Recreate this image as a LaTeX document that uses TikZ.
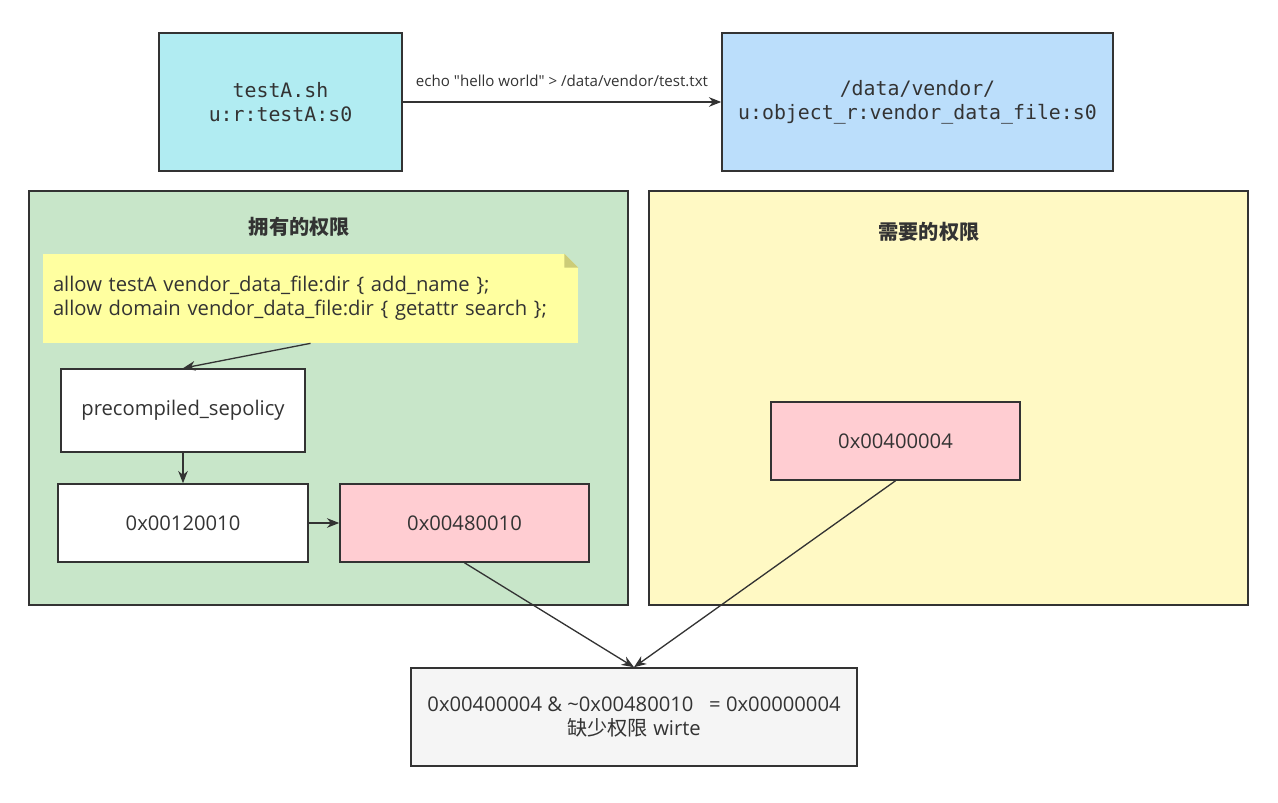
\documentclass[tikz,border=0pt]{standalone}
\usepackage{fontspec}
\setmainfont{Open Sans}
\setmonofont{DejaVu Sans Mono}
\newfontfamily\cjk{Noto Sans CJK SC}
\usetikzlibrary{arrows.meta}
\definecolor{seLine}{RGB}{51, 51, 51}
\definecolor{seCyan}{RGB}{177, 236, 242}
\definecolor{seBlue}{RGB}{187, 222, 251}
\definecolor{seGreen}{RGB}{200, 230, 201}
\definecolor{seYellow}{RGB}{255, 249, 196}
\definecolor{seNote}{RGB}{255, 255, 160}
\definecolor{seFold}{RGB}{204, 204, 120}
\definecolor{sePink}{RGB}{255, 205, 210}
\definecolor{seGray}{RGB}{245, 245, 245}

\begin{document}
\begin{tikzpicture}[
    box/.style={draw=seLine, line width=0.9pt, text=seLine, align=center},
    link/.style={-{Stealth[length=7pt, width=5.5pt]}, line width=0.75pt, draw=seLine},
    mono/.style={font=\ttfamily\fontsize{11.3}{13.6}\selectfont},
    txt/.style={font=\fontsize{11.5}{13.6}\selectfont}]
    \useasboundingbox (0,0) rectangle (25.56,-16.06);

    % Process and target
    \node[box, mono, fill=seCyan, minimum width=4.86cm, minimum height=2.76cm] (proc) at (5.61,-2.04) {testA.sh\\u:r:testA:s0};
    \node[box, mono, fill=seBlue, minimum width=7.82cm, minimum height=2.76cm] (target) at (18.35,-2.04) {/data/vendor/\\u:object\_r:vendor\_data\_file:s0};
    \draw[link] (proc) -- (target) node[midway, above=0.18cm, text=seLine, font=\fontsize{8.6}{10}\selectfont] {echo \textquotedbl hello world\textquotedbl{} > /data/vendor/test.txt};

    % Containers
    \node[box, fill=seGreen, minimum width=11.98cm, minimum height=8.28cm] (have) at (6.57,-7.96) {};
    \node[box, fill=seYellow, minimum width=11.98cm, minimum height=8.28cm] (need) at (18.97,-7.96) {};
    \node[text=seLine, font=\cjk\bfseries\fontsize{11.5}{13}\selectfont] (havetitle) at (5.99,-4.54) {拥有的权限};
    \node[text=seLine, font=\cjk\bfseries\fontsize{11.5}{13}\selectfont] (needtitle) at (18.58,-4.64) {需要的权限};

    % Policy note
    \node[fill=seNote, text=seLine, txt, minimum width=10.7cm, minimum height=1.78cm, text width=10.3cm, align=left] (note) at (6.21,-5.97) {allow testA vendor\_data\_file:dir \{ add\_name \};\\allow domain vendor\_data\_file:dir \{ getattr search \};};
    \fill[seGreen] (note.north east) -- ++(-0.28,0) -- ++(0.28,-0.28) -- cycle;
    \fill[seFold] ([xshift=-0.28cm]note.north east) -- ([yshift=-0.28cm]note.north east) -- ++(-0.28,0) -- cycle;

    % Permission values
    \node[box, txt, fill=white, minimum width=4.88cm, minimum height=1.66cm] (sepolicy) at (3.66,-8.21) {precompiled\_sepolicy};
    \node[box, txt, fill=white, minimum width=5.0cm, minimum height=1.56cm] (allowed) at (3.66,-10.46) {0x00120010};
    \node[box, txt, fill=sePink, minimum width=4.98cm, minimum height=1.56cm] (granted) at (9.29,-10.46) {0x00480010};
    \node[box, txt, fill=sePink, minimum width=4.98cm, minimum height=1.56cm] (required) at (17.91,-8.82) {0x00400004};

    % Result
    \node[box, txt, fill=seGray, minimum width=8.92cm, minimum height=1.96cm] (result) at (12.68,-14.34) {0x00400004 \& \textasciitilde 0x00480010 \ \ = 0x00000004\\{\cjk 缺少权限} wirte};

    % Arrows
    \draw[link] (note.south) -- (sepolicy.north);
    \draw[link] (sepolicy) -- (allowed);
    \draw[link] (allowed) -- (granted);
    \draw[link] (granted.south) -- (result.north);
    \draw[link] (required.south) -- (result.north);
\end{tikzpicture}
\end{document}
